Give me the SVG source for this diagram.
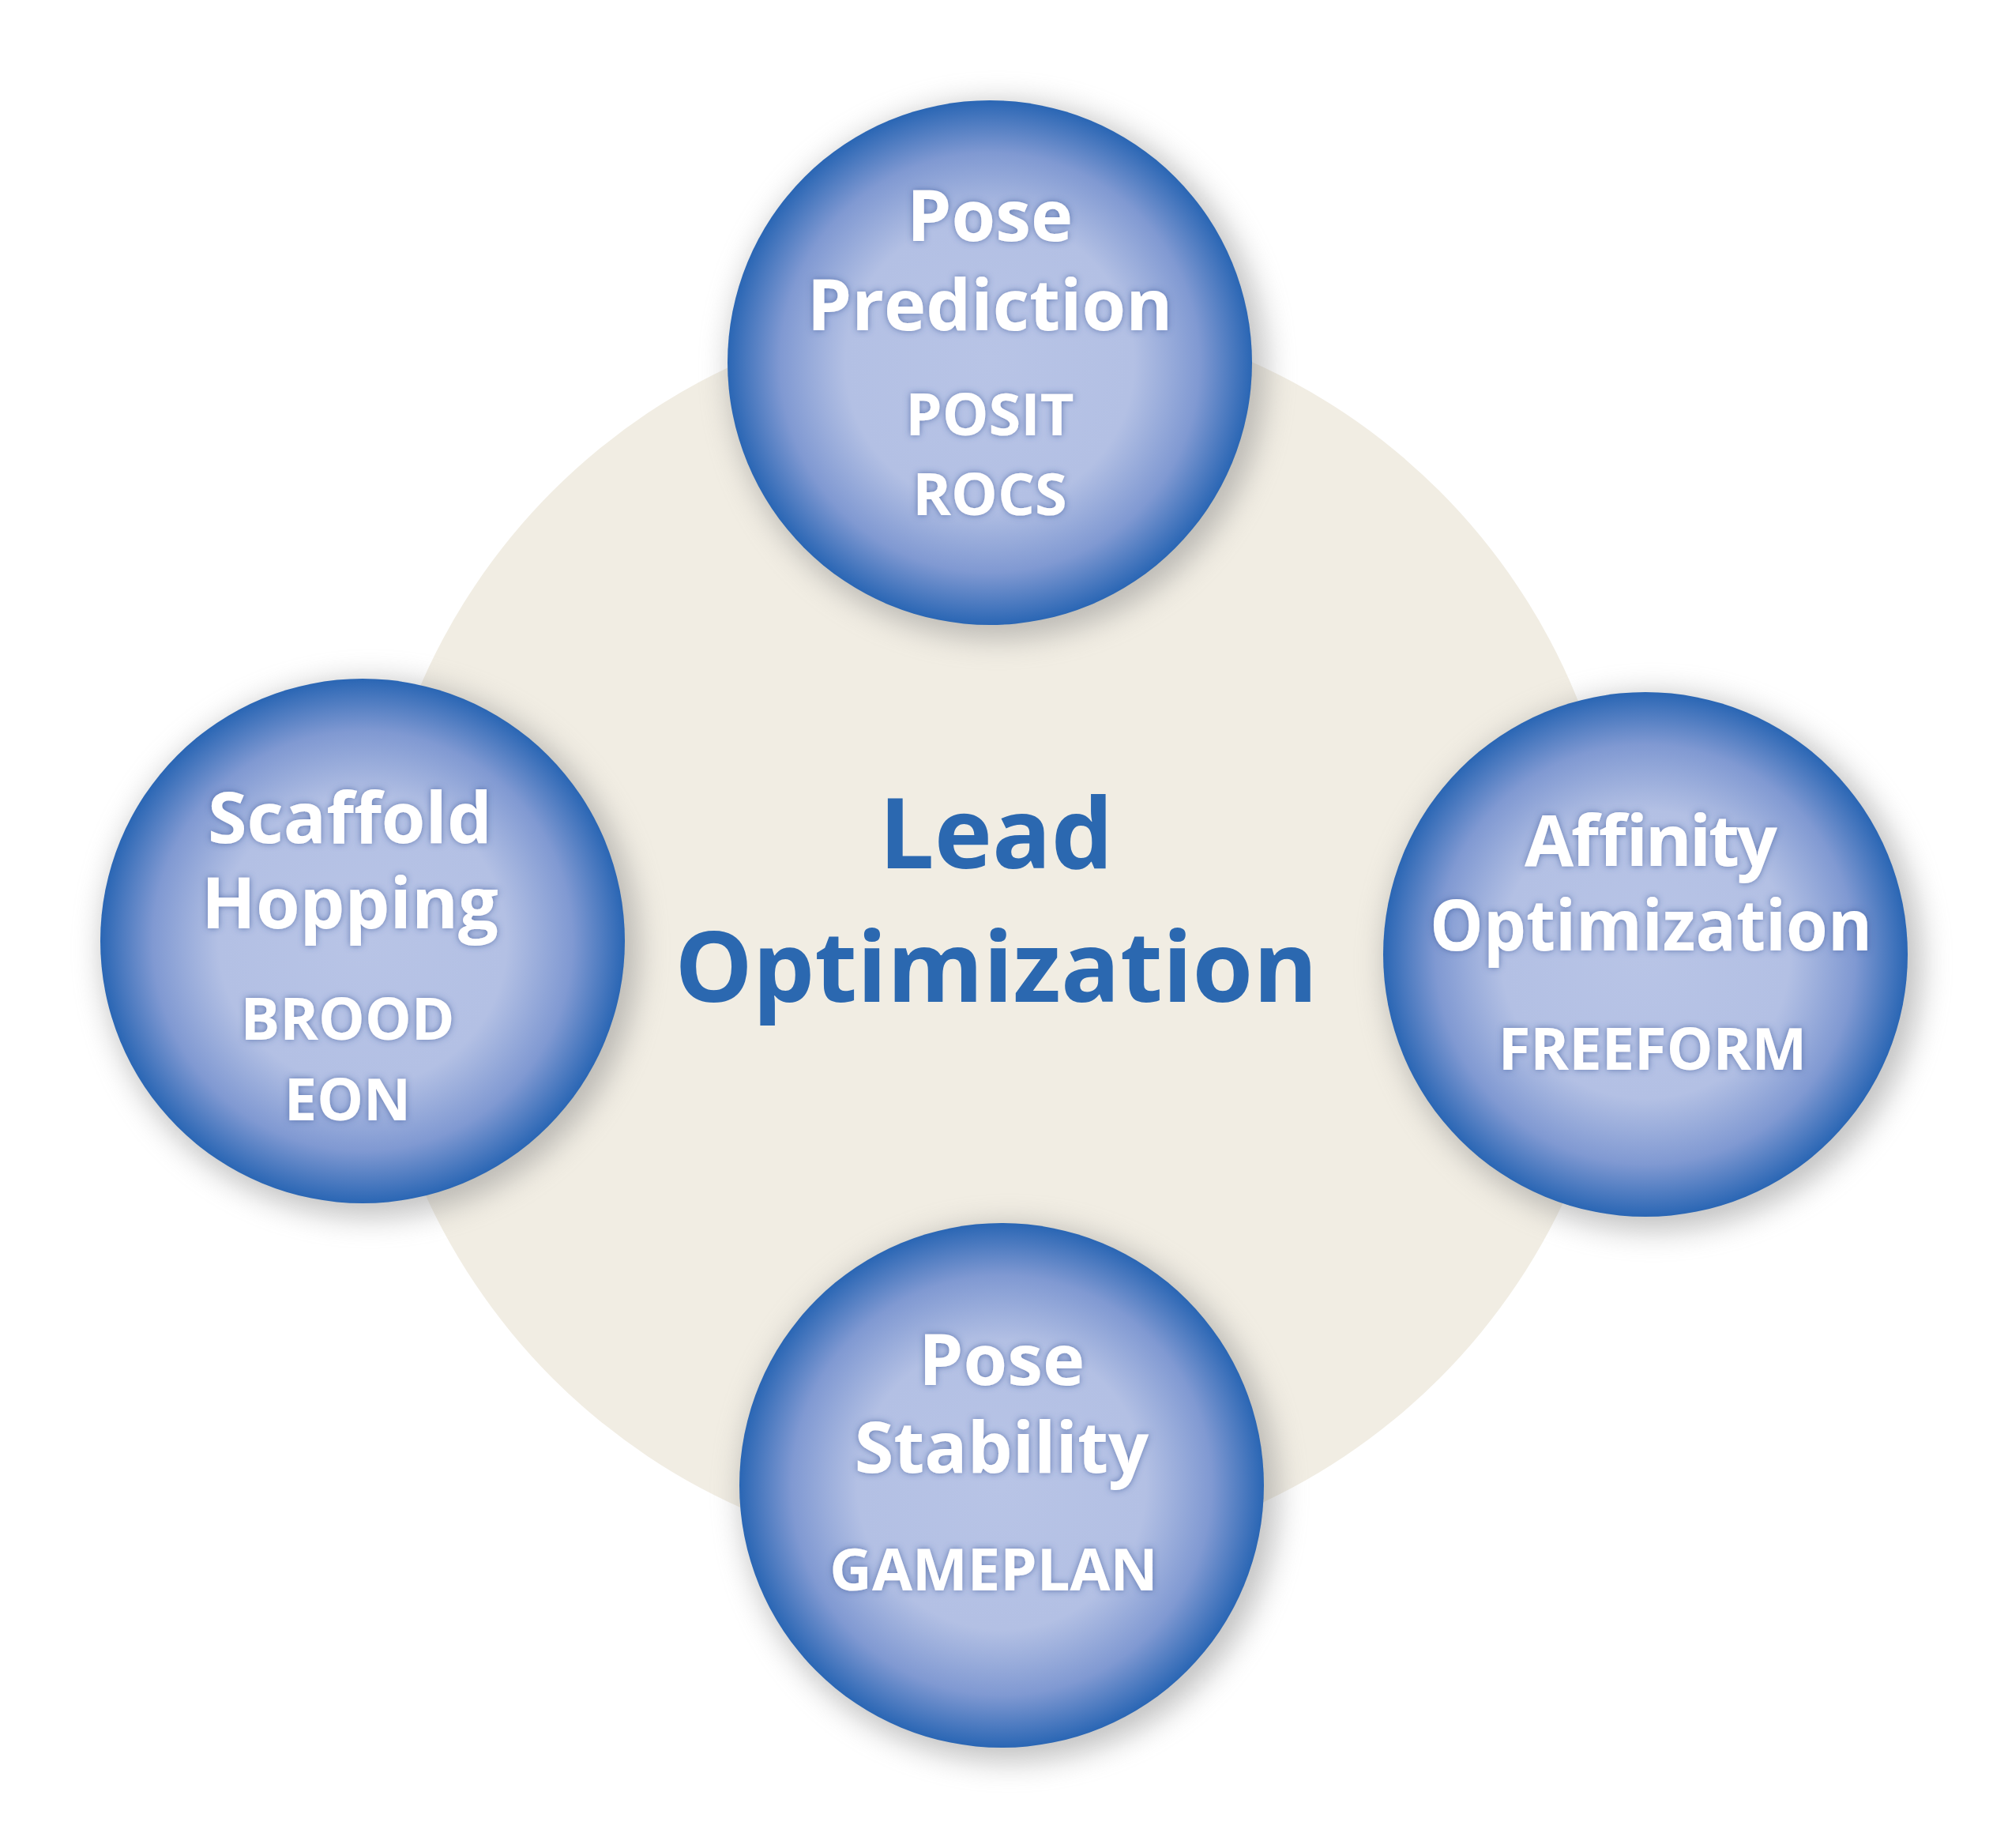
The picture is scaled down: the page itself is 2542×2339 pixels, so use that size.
<svg xmlns="http://www.w3.org/2000/svg" width="2542" height="2339" viewBox="0 0 2542 2339">
<defs>
<radialGradient id="g" cx="50%" cy="50%" r="50%">
<stop offset="0" stop-color="#b8c4e6"/><stop offset="0.55" stop-color="#b3c0e4"/><stop offset="0.8" stop-color="#8099d2"/><stop offset="1" stop-color="#2a66b4"/>
</radialGradient>
<filter id="sh" x="-30%" y="-30%" width="160%" height="160%"><feGaussianBlur stdDeviation="18"/></filter>
<filter id="ts" x="-10%" y="-30%" width="120%" height="160%"><feDropShadow dx="0" dy="0" stdDeviation="4" flood-color="#3a5a9a" flood-opacity="0.7"/></filter>
<style>
.t{font-family:"Open Sans","Liberation Sans",sans-serif;font-weight:bold;fill:#fff;text-anchor:middle;filter:url(#ts)}
.h{font-size:90px}.s{font-size:74px}
.c{font-family:"Open Sans","Liberation Sans",sans-serif;font-weight:bold;fill:#2b68b0;text-anchor:middle;font-size:124px}
</style>
</defs>
<rect width="2542" height="2339" fill="#fff"/>
<g id="center"><circle cx="1261" cy="1183" r="794" fill="#f1ede3"/>
<text class="c" x="1261" y="1099">Lead</text><text class="c" x="1261" y="1268">Optimization</text></g>
<g id="top"><circle cx="1263" cy="469" r="340" fill="#888" opacity="0.5" filter="url(#sh)"/><circle cx="1253" cy="459" r="332" fill="url(#g)"/>
<text class="t h" x="1253" y="305">Pose</text><text class="t h" x="1253" y="418">Prediction</text>
<text class="t s" x="1253" y="551">POSIT</text><text class="t s" x="1253" y="652">ROCS</text></g>
<g id="left"><circle cx="469" cy="1201" r="340" fill="#888" opacity="0.5" filter="url(#sh)"/><circle cx="459" cy="1191" r="332" fill="url(#g)"/>
<text class="t h" x="443" y="1067">Scaffold</text><text class="t h" x="443" y="1175">Hopping</text>
<text class="t s" x="440" y="1316">BROOD</text><text class="t s" x="440" y="1418">EON</text></g>
<g id="right"><circle cx="2093" cy="1218" r="340" fill="#888" opacity="0.5" filter="url(#sh)"/><circle cx="2083" cy="1208" r="332" fill="url(#g)"/>
<text class="t h" x="2090" y="1096" textLength="320">Affinity</text><text class="t h" x="2090" y="1203" textLength="560" lengthAdjust="spacingAndGlyphs">Optimization</text>
<text class="t s" x="2092" y="1354">FREEFORM</text></g>
<g id="bottom"><circle cx="1278" cy="1890" r="340" fill="#888" opacity="0.5" filter="url(#sh)"/><circle cx="1268" cy="1880" r="332" fill="url(#g)"/>
<text class="t h" x="1268" y="1753">Pose</text><text class="t h" x="1268" y="1864">Stability</text>
<text class="t s" x="1258" y="2013">GAMEPLAN</text></g>
<g id="connectors"/>
</svg>
